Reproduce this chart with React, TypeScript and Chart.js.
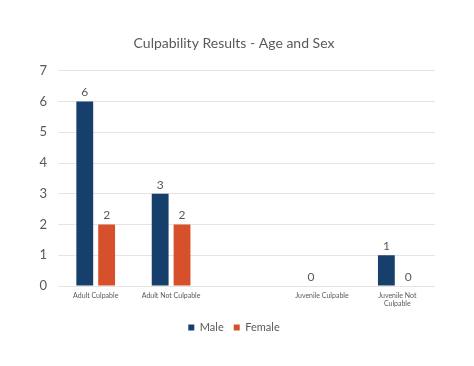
import React, { useEffect, useRef } from "react";
import { Chart, registerables } from "chart.js";

Chart.register(...registerables);

const categories: (string | string[])[] = [
  "Adult Culpable",
  "Adult Not Culpable",
  "",
  "Juvenile Culpable",
  ["Juvenile Not", "Culpable"],
];
const maleValues: (number | null)[] = [6, 3, null, 0, 1];
const femaleValues: (number | null)[] = [2, 2, null, null, 0];
const yTicks = [0, 1, 2, 3, 4, 5, 6, 7];

const FONT = "Lato, 'Open Sans', sans-serif";
const MALE = "#173f6c";
const FEMALE = "#d5502b";
const TEXT = "#595959";

const valueLabels = {
  id: "valueLabels",
  afterDatasetsDraw(chart: any) {
    const ctx = chart.ctx;
    ctx.save();
    ctx.font = `12px ${FONT}`;
    ctx.fillStyle = TEXT;
    ctx.textAlign = "center";
    ctx.textBaseline = "bottom";
    chart.data.datasets.forEach((ds: any, di: number) => {
      const meta = chart.getDatasetMeta(di);
      meta.data.forEach((el: any, i: number) => {
        const v = ds.data[i];
        if (v === null || v === undefined) return;
        ctx.fillText(String(v), el.x, el.y - 3);
      });
    });
    ctx.restore();
  },
};

export default function App() {
  const ref = useRef<HTMLCanvasElement | null>(null);
  useEffect(() => {
    if (!ref.current) return;
    const chart = new Chart(ref.current, {
      type: "bar",
      data: {
        labels: categories,
        datasets: [
          {
            label: "Male",
            data: maleValues,
            backgroundColor: MALE,
            categoryPercentage: 0.58,
            barPercentage: 0.77,
          },
          {
            label: "Female",
            data: femaleValues,
            backgroundColor: FEMALE,
            categoryPercentage: 0.58,
            barPercentage: 0.77,
          },
        ],
      },
      options: {
        responsive: false,
        animation: false,
        layout: { padding: { top: 0, left: 33, right: 39, bottom: 23 } },
        plugins: {
          title: {
            display: true,
            text: "Culpability Results - Age and Sex",
            color: TEXT,
            font: { family: FONT, size: 14, weight: "normal" },
            padding: { top: 35, bottom: 19 },
          },
          legend: {
            position: "bottom",
            labels: {
              color: TEXT,
              font: { family: FONT, size: 11 },
              boxWidth: 6,
              boxHeight: 6,
              padding: 10,
            },
          },
          tooltip: { enabled: false },
        },
        scales: {
          x: {
            grid: { display: false, drawTicks: false },
            border: { display: false },
            ticks: {
              color: TEXT,
              font: { family: FONT, size: 7, lineHeight: 1.25 },
              maxRotation: 0,
              autoSkip: false,
              padding: 5,
            },
            afterFit: (axis: any) => {
              axis.height = 26;
            },
          },
          y: {
            min: 0,
            max: 7,
            afterBuildTicks: (axis: any) => {
              axis.ticks = yTicks.map((v) => ({ value: v }));
            },
            grid: { color: "#e4e4e4", drawTicks: false },
            border: { display: false },
            ticks: {
              color: TEXT,
              font: { family: FONT, size: 13 },
              padding: 11,
            },
            afterFit: (axis: any) => {
              axis.width = 25;
            },
          },
        },
      },
      plugins: [valueLabels],
    });
    return () => chart.destroy();
  }, []);
  return (
    <div style={{ position: "fixed", left: 0, top: 0, width: 474, height: 366, background: "#fff" }}>
      <canvas ref={ref} width={474} height={366} />
    </div>
  );
}
